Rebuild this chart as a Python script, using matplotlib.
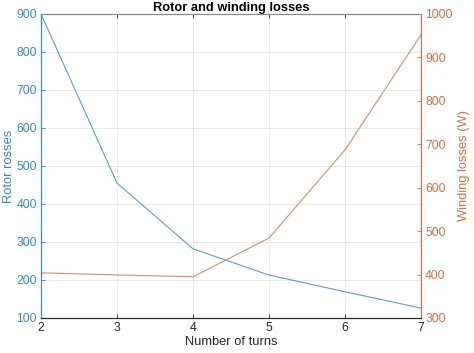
import matplotlib
matplotlib.use("Agg")
import matplotlib.pyplot as plt

plt.rcParams['font.family'] = ['Liberation Sans', 'DejaVu Sans']

turns = [2, 3, 4, 5, 6, 7]
rotor_losses = [900, 455, 282, 213, 169, 126]
winding_losses = [404, 399, 395, 484, 687, 952]

blue = '#2f8bc0'
orange = '#d0703f'
blue_line = '#5a9fc6'
orange_line = '#d58d68'
dark = '#262626'
grey = '#8a8a8a'

fig = plt.figure(figsize=(4.74, 3.53), dpi=100)
ax = fig.add_axes([0.0865, 0.0992, 0.8017, 0.8612])
ax2 = ax.twinx()

ax.plot(turns, rotor_losses, color=blue_line, lw=0.8)
ax2.plot(turns, winding_losses, color=orange_line, lw=0.8)

ax.set_xlim(2, 7)
ax.set_ylim(100, 900)
ax2.set_ylim(300, 1000)
ax.set_xticks(turns)
ax.set_yticks(range(100, 901, 100))
ax2.set_yticks(range(300, 1001, 100))

ax.grid(True, color='#e6e6e6', lw=0.6)
ax.set_axisbelow(True)

fs = 8.8
ax.tick_params(axis='x', direction='in', top=True, colors=dark, labelsize=fs, length=3, width=0.6, pad=3)
ax.tick_params(axis='y', direction='in', colors=blue, labelsize=fs, length=3, width=0.6, pad=3)
ax2.tick_params(axis='y', direction='in', colors=orange, labelsize=fs, length=3, width=0.6, pad=3)

for a in (ax, ax2):
    a.spines['top'].set_color(grey)
    a.spines['bottom'].set_color(dark)
    a.spines['left'].set_color(blue)
    a.spines['right'].set_color(orange)
    for s in a.spines.values():
        s.set_linewidth(0.8)

ax.set_xlabel('Number of turns', fontsize=9.3, color=dark, labelpad=1)
ax.set_ylabel('Rotor rosses', fontsize=9.3, color=blue, labelpad=1)
ax2.set_ylabel('Winding losses (W)', fontsize=9.3, color=orange, labelpad=4)
ax.set_title('Rotor and winding losses', fontsize=9.3, fontweight='bold', color='black', pad=2)

fig.savefig('out.png', dpi=100)
